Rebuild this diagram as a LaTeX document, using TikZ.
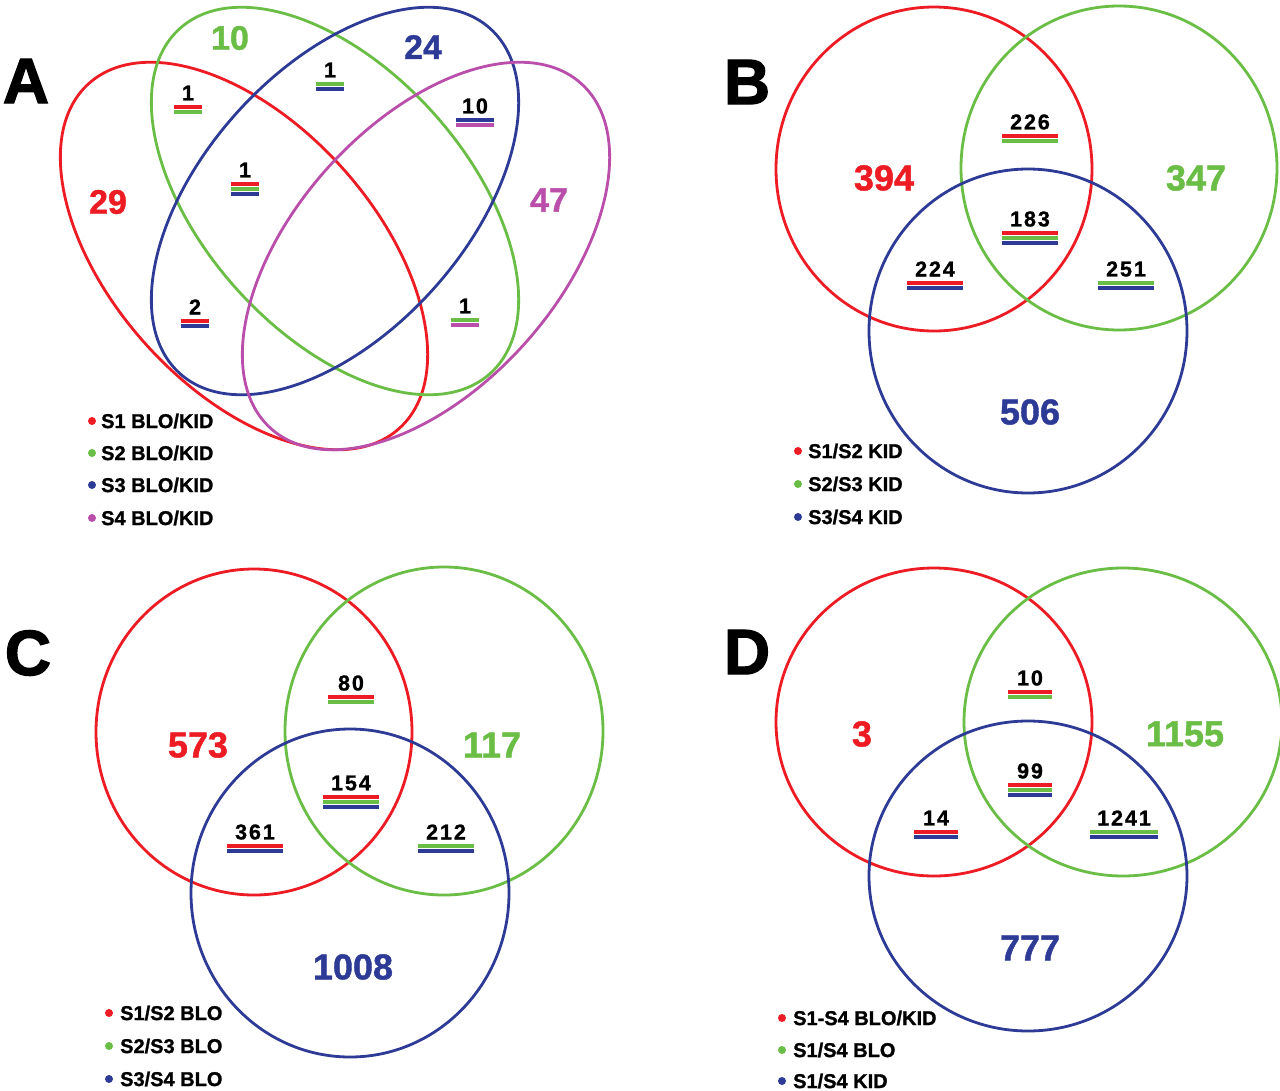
\documentclass[tikz,border=0pt]{standalone}
\usepackage{fontspec}
\setmainfont{Liberation Sans}[BoldFeatures={FakeBold=1.2}]
\newfontfamily\heavyfont{Liberation Sans}[BoldFeatures={FakeBold=2}]
\newfontfamily\smallnumfont{Liberation Sans}[LetterSpace=9, BoldFeatures={FakeBold=1.2}]
\definecolor{vred}{RGB}{237,28,36}
\definecolor{vgreen}{RGB}{106,189,69}
\definecolor{vblue}{RGB}{46,59,150}
\definecolor{vmag}{RGB}{186,79,171}
\tikzset{
  venn/.style={line width=2.8pt},
  bignum/.style={font=\fontsize{36}{36}\selectfont\bfseries, inner sep=0pt},
  bignumA/.style={font=\fontsize{34}{34}\selectfont\bfseries, inner sep=0pt},
  smallnum/.style={font=\smallnumfont\fontsize{21.5}{21.5}\selectfont\bfseries, inner sep=0pt, text=black},
  uline/.style={line width=3.6pt},
  legtext/.style={font=\fontsize{20}{20}\selectfont\bfseries, anchor=west, inner sep=0pt, text=black},
  legdot/.style={circle, inner sep=0pt, minimum size=8pt, draw=none},
  panellabel/.style={font=\heavyfont\fontsize{64}{64}\selectfont\bfseries, inner sep=0pt, text=black},
}
\newcommand\ulabel[6]{% name, x, y, text, half width, colours
  \node[smallnum] (#1) at (#2,#3) {#4};
  \foreach \c [count=\i] in {#6} {
    \draw[uline,\c] ([shift={(-#5,8.5+5.2*\i)}]#1.center) -- ([shift={(#5,8.5+5.2*\i)}]#1.center);
  }
}
\begin{document}
\begin{tikzpicture}[x=1pt,y=-1pt]
\path[use as bounding box, fill=white] (0,0) rectangle (1280,1090);

% ---------------- Panel A ----------------
\node[panellabel] (labA) at (26,81) {A};
\draw[venn,vred]   (244,256) ellipse [x radius=232, y radius=132, rotate=-48];
\draw[venn,vgreen] (335,201) ellipse [x radius=232, y radius=132, rotate=-48];
\draw[venn,vblue]  (335,201) ellipse [x radius=232, y radius=132, rotate=48];
\draw[venn,vmag]   (426,256) ellipse [x radius=232, y radius=132, rotate=48];

\node[bignumA,text=vgreen] (a10) at (230,38) {10};
\node[bignumA,text=vblue]  (a24) at (423,47) {24};
\node[bignumA,text=vred]   (a29) at (108,202) {29};
\node[bignumA,text=vmag]   (a47) at (549,200) {47};

\ulabel{aone}{188}{93}{1}{14}{vred,vgreen}
\ulabel{atwo}{330}{70}{1}{14}{vgreen,vblue}
\ulabel{athree}{475}{106}{10}{19}{vblue,vmag}
\ulabel{afour}{245}{170}{1}{14}{vred,vgreen,vblue}
\ulabel{afive}{195}{307}{2}{14}{vred,vblue}
\ulabel{asix}{465}{306}{1}{14}{vgreen,vmag}

\node[legdot,fill=vred]   (ad1) at (92,421) {};
\node[legdot,fill=vgreen] (ad2) at (92,453) {};
\node[legdot,fill=vblue]  (ad3) at (92,485) {};
\node[legdot,fill=vmag]   (ad4) at (92,518) {};
\node[legtext] (at1) at (101,421) {S1 BLO/KID};
\node[legtext] (at2) at (101,453) {S2 BLO/KID};
\node[legtext] (at3) at (101,485) {S3 BLO/KID};
\node[legtext] (at4) at (101,518) {S4 BLO/KID};

% ---------------- Panel B ----------------
\node[panellabel] (labB) at (747,82) {B};
\draw[venn,vred]   (934,169) ellipse [x radius=158, y radius=162];
\draw[venn,vgreen] (1119,168) ellipse [x radius=158, y radius=162];
\draw[venn,vblue]  (1028,331) ellipse [x radius=159, y radius=162];

\node[bignum,text=vred]   (b394) at (884,178) {394};
\node[bignum,text=vgreen] (b347) at (1196,178) {347};
\node[bignum,text=vblue]  (b506) at (1030,412) {506};

\ulabel{bone}{1030}{122}{226}{28}{vred,vgreen}
\ulabel{btwo}{1030}{219}{183}{28}{vred,vgreen,vblue}
\ulabel{bthree}{935}{269}{224}{28}{vred,vblue}
\ulabel{bfour}{1126}{269}{251}{28}{vgreen,vblue}

\node[legdot,fill=vred]   (bd1) at (798,451) {};
\node[legdot,fill=vgreen] (bd2) at (798,484) {};
\node[legdot,fill=vblue]  (bd3) at (798,517) {};
\node[legtext] (bt1) at (808,451) {S1/S2 KID};
\node[legtext] (bt2) at (808,484) {S2/S3 KID};
\node[legtext] (bt3) at (808,517) {S3/S4 KID};

% ---------------- Panel C ----------------
\node[panellabel] (labC) at (28,653) {C};
\draw[venn,vred]   (254,732) ellipse [x radius=158, y radius=163];
\draw[venn,vgreen] (444,731) ellipse [x radius=159, y radius=164];
\draw[venn,vblue]  (350,893) ellipse [x radius=159, y radius=164];

\node[bignum,text=vred]   (c573) at (198,745) {573};
\node[bignum,text=vgreen] (c117) at (492,745) {117};
\node[bignum,text=vblue]  (c1008) at (353,967) {1008};

\ulabel{cone}{351}{683}{80}{23}{vred,vgreen}
\ulabel{ctwo}{351}{783}{154}{28}{vred,vgreen,vblue}
\ulabel{cthree}{255}{832}{361}{28}{vred,vblue}
\ulabel{cfour}{446}{832}{212}{28}{vgreen,vblue}

\node[legdot,fill=vred]   (cd1) at (109,1013) {};
\node[legdot,fill=vgreen] (cd2) at (109,1046) {};
\node[legdot,fill=vblue]  (cd3) at (109,1079) {};
\node[legtext] (ct1) at (120,1013) {S1/S2 BLO};
\node[legtext] (ct2) at (120,1046) {S2/S3 BLO};
\node[legtext] (ct3) at (120,1079) {S3/S4 BLO};

% ---------------- Panel D ----------------
\node[panellabel] (labD) at (747,652) {D};
\draw[venn,vred]   (934,722) ellipse [x radius=158, y radius=154];
\draw[venn,vgreen] (1123,722) ellipse [x radius=159, y radius=154];
\draw[venn,vblue]  (1028,876) ellipse [x radius=159, y radius=155];

\node[bignum,text=vred]   (d3) at (862,734) {3};
\node[bignum,text=vgreen] (d1155) at (1185,734) {1155};
\node[bignum,text=vblue]  (d777) at (1030,948) {777};

\ulabel{done}{1030}{678}{10}{22}{vred,vgreen}
\ulabel{dtwo}{1030}{771}{99}{22}{vred,vgreen,vblue}
\ulabel{dthree}{936}{818}{14}{22}{vred,vblue}
\ulabel{dfour}{1124}{818}{1241}{34}{vgreen,vblue}

\node[legdot,fill=vred]   (dd1) at (782,1018) {};
\node[legdot,fill=vgreen] (dd2) at (782,1050) {};
\node[legdot,fill=vblue]  (dd3) at (782,1081) {};
\node[legtext] (dt1) at (793,1018) {S1-S4 BLO/KID};
\node[legtext] (dt2) at (793,1050) {S1/S4 BLO};
\node[legtext] (dt3) at (793,1081) {S1/S4 KID};
\end{tikzpicture}
\end{document}
